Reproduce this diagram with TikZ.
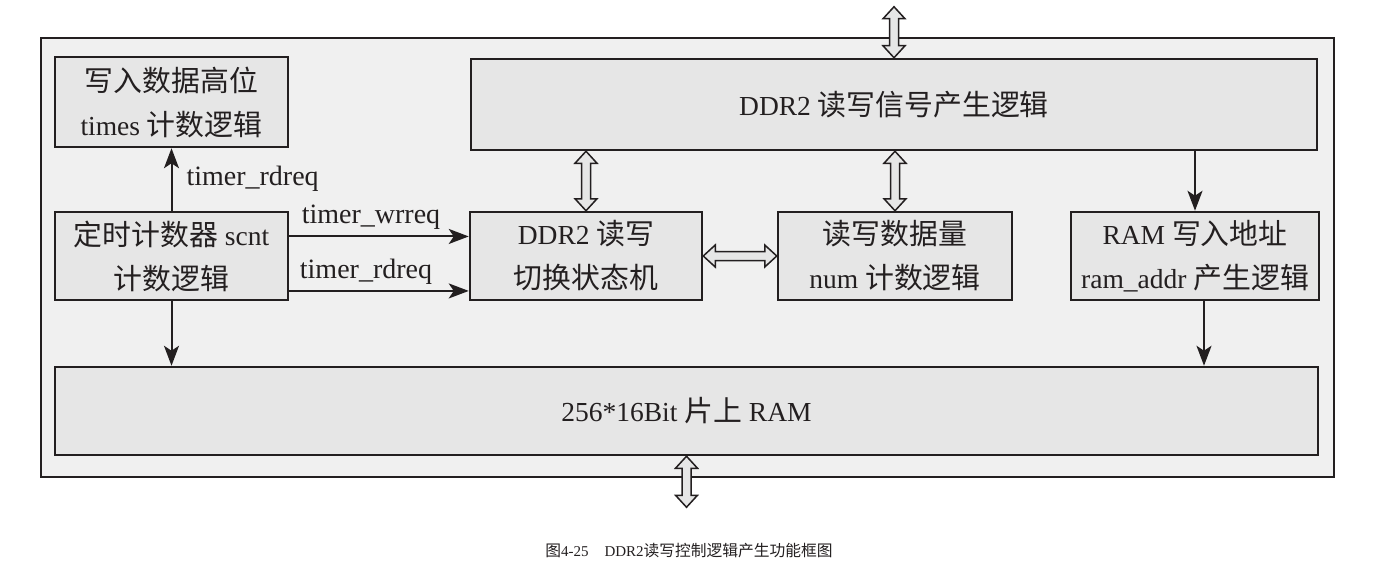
\documentclass[tikz,border=0pt]{standalone}
\usepackage{fontspec}
\setmainfont{Liberation Serif}
\newfontfamily\cjk[Scale=1.05]{Noto Sans CJK SC}
\usetikzlibrary{arrows.meta,calc}
\definecolor{ink}{HTML}{231F20}
\definecolor{outerfill}{HTML}{F0F0F0}
\definecolor{boxfill}{HTML}{E6E6E6}
\newcommand{\zh}[1]{{\cjk #1}}
% vertical hollow double arrow: #1 upper end, #2 lower end
\newcommand{\vdbl}[2]{%
  \path[dblarrow] let \p1=#1, \p2=#2 in
    (\x1,\y1) -- (\x1+11pt,\y1-12pt) -- (\x1+4.5pt,\y1-12pt) -- (\x1+4.5pt,\y2+12pt)
    -- (\x1+11pt,\y2+12pt) -- (\x1,\y2) -- (\x1-11pt,\y2+12pt) -- (\x1-4.5pt,\y2+12pt)
    -- (\x1-4.5pt,\y1-12pt) -- (\x1-11pt,\y1-12pt) -- cycle;}
% horizontal hollow double arrow: #1 left end, #2 right end
\newcommand{\hdbl}[2]{%
  \path[dblarrow] let \p1=#1, \p2=#2 in
    (\x1,\y1) -- (\x1+12pt,\y1+11pt) -- (\x1+12pt,\y1+4.5pt) -- (\x2-12pt,\y1+4.5pt)
    -- (\x2-12pt,\y1+11pt) -- (\x2,\y1) -- (\x2-12pt,\y1-11pt) -- (\x2-12pt,\y1-4.5pt)
    -- (\x1+12pt,\y1-4.5pt) -- (\x1+12pt,\y1-11pt) -- cycle;}
\begin{document}
\begin{tikzpicture}[x=1pt,y=-1pt,
  blk/.style={draw=ink, line width=2.5pt, fill=boxfill, inner sep=0pt, align=center,
    text=ink, font=\fontsize{27.5}{44}\selectfont},
  sysbox/.style={draw=ink, line width=2pt, fill=outerfill, inner sep=0pt},
  sig/.style={draw=ink, line width=2pt, -{Stealth[length=20pt,width=15pt,inset=5pt]}},
  lbl/.style={text=ink, font=\fontsize{28}{30}\selectfont, inner sep=0pt},
  dblarrow/.style={draw=ink, line width=1.5pt, fill=boxfill, line join=miter}]
\useasboundingbox (0,0) rectangle (1380,575);

\node[sysbox, minimum width=1293, minimum height=439] (sys) at (687.5,257.5) {};

\node[blk, minimum width=233, minimum height=90] (A) at (171.5,102)
  {\zh{写入数据高位}\\times \zh{计数逻辑}};
\node[blk, minimum width=846, minimum height=91] (B) at (894,104.5)
  {DDR2 \zh{读写信号产生逻辑}};
\node[blk, minimum width=233, minimum height=88] (C) at (171.5,256)
  {\zh{定时计数器} scnt\\\zh{计数逻辑}};
\node[blk, minimum width=232, minimum height=88] (D) at (586,256)
  {DDR2 \zh{读写}\\\zh{切换状态机}};
\node[blk, minimum width=234, minimum height=88] (E) at (895,256)
  {\zh{读写数据量}\\num \zh{计数逻辑}};
\node[blk, minimum width=248, minimum height=88] (F) at (1195,256)
  {RAM \zh{写入地址}\\ram\_addr \zh{产生逻辑}};
\node[blk, minimum width=1263, minimum height=88] (G) at (686.5,411)
  {256*16Bit \zh{片上} RAM};

% signal arrows
\draw[sig] (C.north) -- (A.south)
  node[lbl, midway, anchor=west, xshift=14pt, yshift=1pt] {timer\_rdreq};
\coordinate (c1) at ($(C.north east)!0.284!(C.south east)$);
\coordinate (c2) at ($(C.north east)!0.886!(C.south east)$);
\draw[sig] (c1) -- (c1 -| D.west)
  node[lbl, midway, above, yshift=6pt, xshift=-8pt] {timer\_wrreq};
\draw[sig] (c2) -- (c2 -| D.west)
  node[lbl, midway, above, yshift=5pt, xshift=-13pt] {timer\_rdreq};
\draw[sig] (C.south) -- (C.south |- G.north);
\draw[sig] (B.south -| F.north) -- (F.north);
\coordinate (f1) at ([xshift=9pt]F.south);
\draw[sig] (f1) -- (f1 |- G.north);

% bidirectional hollow arrows
\coordinate (topio) at ([yshift=51pt]B.north);
\coordinate (botio) at ([yshift=-51pt]G.south);
\vdbl{(topio)}{(B.north)}
\vdbl{(B.south -| D.north)}{(D.north)}
\vdbl{(B.south -| E.north)}{(E.north)}
\vdbl{(G.south)}{(botio)}
\hdbl{(D.east)}{(E.west)}

% caption
\node[text=ink, font=\fontsize{15}{16}\selectfont, inner sep=0pt] (cap) at (689,551)
  {\zh{图}4-25\hspace{16pt}DDR2\zh{读写控制逻辑产生功能框图}};
\end{tikzpicture}
\end{document}
